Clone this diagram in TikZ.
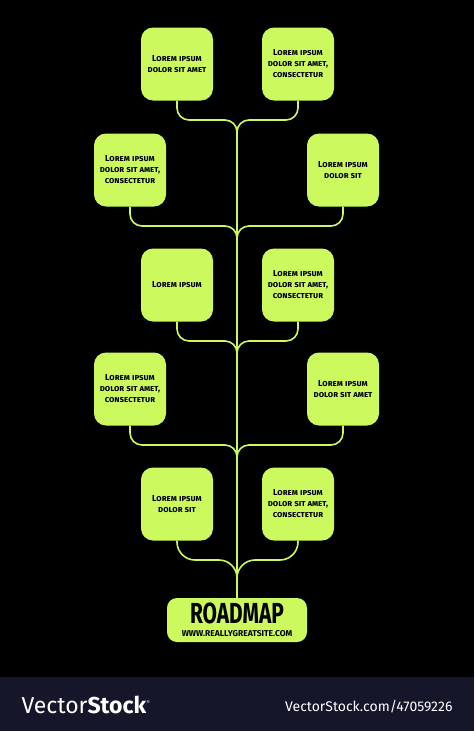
\documentclass[tikz,border=0pt]{standalone}
\usepackage{fontspec}
\setmainfont{Fira Sans}
\usetikzlibrary{positioning,calc}
\definecolor{lime}{HTML}{CCFA5E}
\definecolor{band}{HTML}{15162A}
\tikzset{
  card/.style={fill=lime, rounded corners=12pt, minimum width=72pt, minimum height=73pt, inner sep=0pt,
    align=center, text=black, font=\fontsize{8.7}{11}\selectfont\bfseries\scshape},
  title/.style={fill=lime, rounded corners=10pt, minimum width=140pt, minimum height=44pt, inner sep=0pt,
    align=center, text=black},
  branch/.style={draw=lime, line width=1.6pt},
}

\begin{document}
\begin{tikzpicture}[x=1pt,y=-1pt]
    \fill[black] (0,0) rectangle (474,731);
    \fill[band] (0,677) rectangle (474,731);
    % the cards, row by row
    \foreach \n/\x/\y/\txt in {a/177/64/{Lorem ipsum\\dolor sit amet},
                               b/298/64/{Lorem ipsum\\dolor sit amet,\\consectetur},
                               c/130/170/{Lorem ipsum\\dolor sit amet,\\consectetur},
                               d/343/170/{Lorem ipsum\\dolor sit},
                               e/177/285/{Lorem ipsum},
                               f/298/285/{Lorem ipsum\\dolor sit amet,\\consectetur},
                               g/130/389/{Lorem ipsum\\dolor sit amet,\\consectetur},
                               h/343/389/{Lorem ipsum\\dolor sit amet},
                               i/177/504/{Lorem ipsum\\dolor sit},
                               k/298/504/{Lorem ipsum\\dolor sit amet,\\consectetur}}{\node[card] (\n) at (\x,\y) {\txt};}
    \node[title] (road) at (237,620) {\scalebox{0.72}[1]{\fontsize{29}{24}\selectfont\bfseries ROADMAP}\\[1pt]
        {\fontsize{8.5}{9}\selectfont\bfseries WWW.REALLYGREATSITE.COM}};
    % joints on the stem
    \foreach \j/\y in {1/120,2/226,3/341,4/445,5/560}{\coordinate (j\j) at (237,\y);}
    \coordinate (top) at (237,130);
    \draw[branch] (top) -- (road.north);
    \foreach \l/\r/\j/\rad in {a/b/1/12,c/d/2/12,e/f/3/12,g/h/4/12,i/k/5/18}{
       \draw[branch, rounded corners=\rad pt] (\l.south) |- (j\j) -- ++(0,18);
       \draw[branch, rounded corners=\rad pt] (\r.south) |- (j\j) -- ++(0,18);
    }
    % footer strip
    \node[text=white, anchor=west, font=\fontsize{23}{23}\selectfont] (brand) at (18,705) {Vector\textbf{Stock}\textsuperscript{\tiny\textregistered}};
    \node[text=white, anchor=east, font=\fontsize{14}{14}\selectfont] (ref) at (456,707) {VectorStock.com/47059226};
\end{tikzpicture}
\end{document}
